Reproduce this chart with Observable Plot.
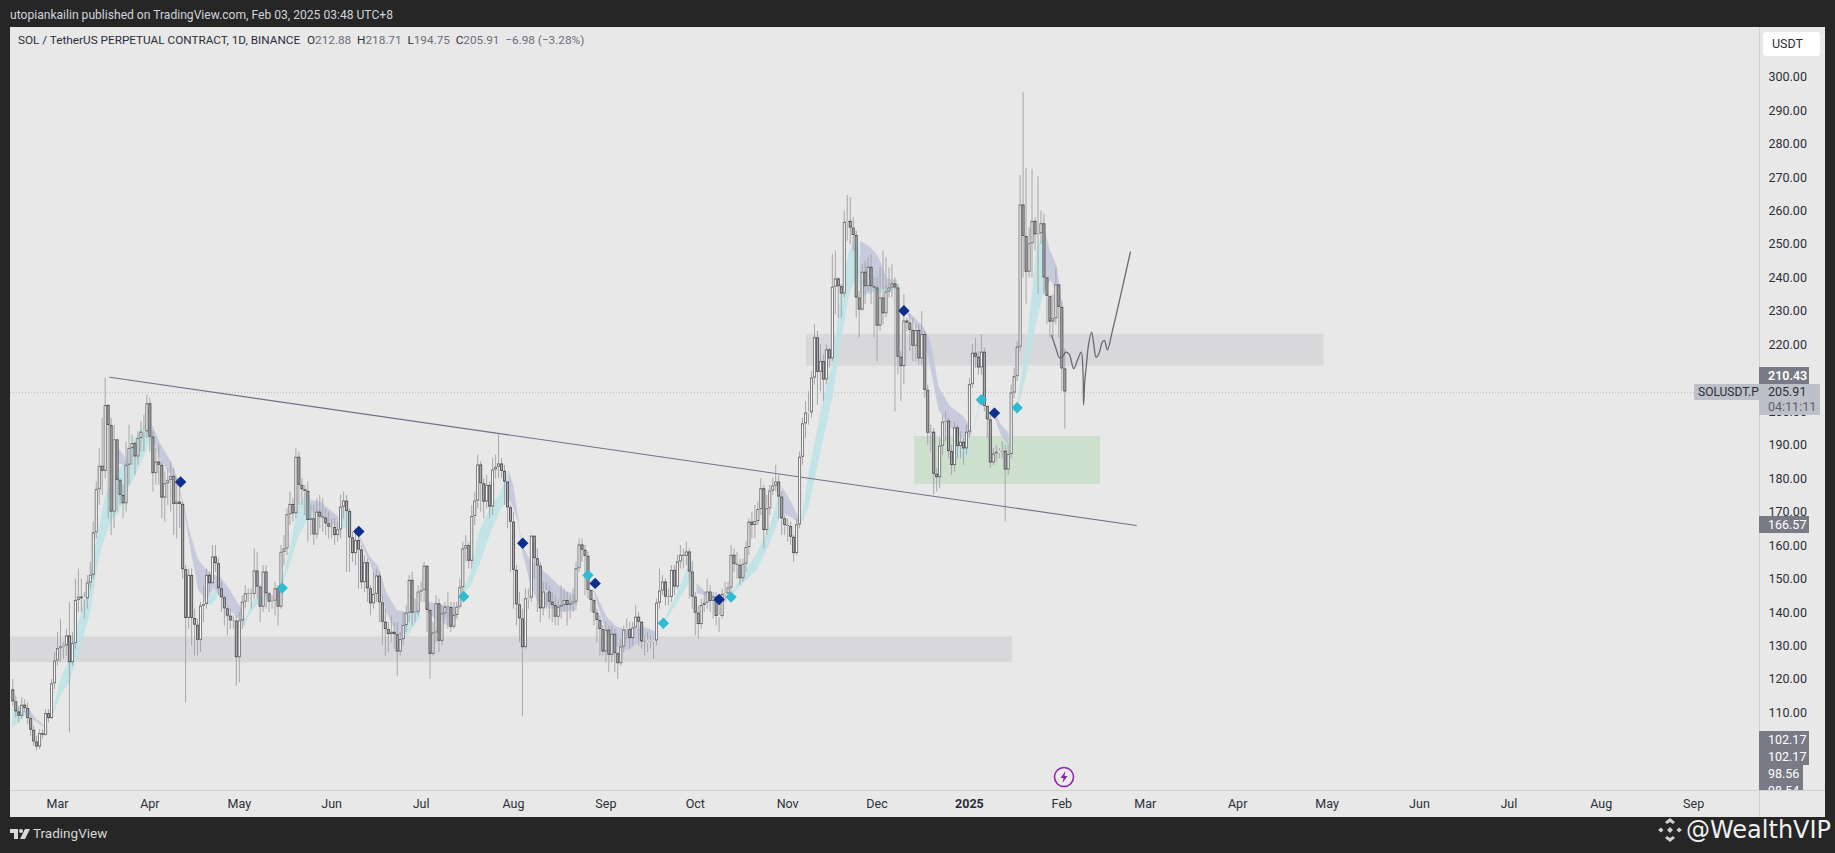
<!DOCTYPE html>
<html><head><meta charset="utf-8">
<script src="https://cdn.jsdelivr.net/npm/d3@7"></script>
<script src="https://cdn.jsdelivr.net/npm/@observablehq/plot@0.6"></script>
<style>
html,body{margin:0;padding:0;background:#262626;width:1835px;height:853px;overflow:hidden;font-family:Roboto,sans-serif}
#pane{position:absolute;left:10px;top:27px;width:1815px;height:790px;background:#e8e8e8}
#chart{position:absolute;left:10px;top:27px}
.t{position:absolute;white-space:pre;line-height:1}
.tag{position:absolute;font-size:12.5px;text-align:left;box-sizing:border-box;padding-left:9px}
.dk{background:#787b86;color:#fff;left:1759px;width:50px}
.line{position:absolute;background:#d0d0d2}
svg text{font-family:Roboto,sans-serif}
</style></head><body>
<div id="pane"></div>
<div id="chart"></div>
<div class="line" style="left:10px;top:790px;width:1815px;height:1px"></div>
<div class="line" style="left:1759px;top:27px;width:1px;height:790px"></div>
<div class="t" style="left:10px;top:9px;font-size:12.1px;color:#d1d4dc">utopiankailin published on TradingView.com, Feb 03, 2025 03:48 UTC+8</div>
<div class="t" style="left:18px;top:35px;font-size:11.75px;color:#2a2e39">SOL / TetherUS PERPETUAL CONTRACT, 1D, BINANCE <span style="margin-left:4px">O</span><span style="color:#6a6d78">212.88</span>  H<span style="color:#6a6d78">218.71</span>  L<span style="color:#6a6d78">194.75</span>  C<span style="color:#6a6d78">205.91</span>  <span style="color:#6a6d78">−6.98 (−3.28%)</span></div>
<div class="t" style="left:1763px;top:32px;width:57px;height:24px;background:#fff;border-radius:3px;font-size:12.5px;line-height:24px;color:#2a2e39;text-indent:9px">USDT</div>
<div class="tag dk" style="top:367px;height:17px;line-height:17px;font-weight:600">210.43</div>
<div class="tag" style="left:1694px;top:384px;width:65px;height:16px;line-height:16px;background:#bcc0c8;color:#2a2e39;padding-left:4px;font-size:12px">SOLUSDT.P</div>
<div class="tag" style="left:1759px;top:384px;width:61px;height:31px;background:#bcc0c8;color:#2a2e39;line-height:15px"><div>205.91</div><div style="color:#5d606b">04:11:11</div></div>
<div class="tag dk" style="top:516px;height:17px;line-height:17px">166.57</div>
<div class="tag dk" style="top:731px;height:17px;line-height:17px">102.17</div>
<div class="tag dk" style="top:748px;height:17px;line-height:17px">102.17</div>
<div class="tag dk" style="top:765px;height:25px;line-height:17px;width:44px;overflow:hidden">98.56<br>98.54</div>
<svg style="position:absolute;left:1052px;top:765px" width="24" height="24" viewBox="0 0 24 24"><circle cx="12" cy="12" r="9.5" fill="#ececec" stroke="#8e24aa" stroke-width="1.6"/><path d="M13.5 6 L8.5 13 H11.5 L10.5 18 L15.5 11 H12.5 Z" fill="#8e24aa"/></svg>
<svg style="position:absolute;left:10px;top:828px" width="20" height="12" viewBox="0 0 20 12"><path d="M0 1H8V11H4V5H0Z M15 1H20L15 11H10Z" fill="#d8d8d8"/><circle cx="11" cy="3" r="2" fill="#d8d8d8"/></svg>
<div class="t" style="left:33px;top:827px;font-size:13.5px;color:#d8d8d8">TradingView</div>
<svg style="position:absolute;left:1656px;top:817px" width="28" height="26" viewBox="0 0 28 26" fill="#d0d0d0"><path d="M14 1l5 4-2 2-3-2-3 2-2-2z M14 25l-5-4 2-2 3 2 3-2 2 2z M2 13l3-2.5 2.500 2.500-2.500 2.500z M26 13l-3-2.500-2.500 2.500 2.500 2.500z M14 10l3 3-3 3-3-3z"/></svg>
<div class="t" style="left:1686px;top:818px;font-size:24px;color:#f0f0f0;font-family:'DejaVu Sans',sans-serif">@WealthVIP</div>
<script>
// first open of the visible history
const firstOpen = 116.9;
// daily closes, 15 Feb 2024 to 2 Feb 2025
const closes = [
113.3,110.3,109.0,112.3,111.3,108.3,104.8,101.3,99.8,103.8,
103.3,109.8,108.3,118.7,125.5,129.2,129.7,130.0,133.0,125.0,
130.7,143.6,144.6,144.1,144.1,148.8,151.1,163.8,176.7,183.7,
182.2,201.9,195.9,170.0,191.6,179.5,175.0,172.5,184.0,189.0,
190.5,186.5,192.0,193.9,194.0,202.4,192.4,181.5,185.0,184.0,
174.2,178.5,179.5,180.7,172.3,173.0,172.3,152.8,138.2,151.1,
138.2,136.2,131.7,141.9,142.4,151.1,148.6,156.6,154.6,147.1,
144.4,141.1,138.9,137.5,137.4,126.5,137.5,143.1,145.6,145.5,145.4,
152.4,147.6,141.6,152.1,145.6,143.1,143.4,147.1,141.6,158.0,159.0,
169.2,172.3,169.5,186.4,178.0,176.7,176.2,167.5,168.0,163.2,
170.0,168.5,168.2,166.5,165.5,165.4,163.0,164.7,171.5,173.3,
170.2,162.3,157.6,161.5,158.7,148.9,154.9,147.1,142.6,145.4,
150.9,142.9,137.1,134.9,133.4,134.1,133.4,128.2,131.9,136.1,
139.8,149.6,139.8,140.1,146.1,146.6,153.8,140.6,127.5,133.9,
142.6,131.4,139.6,141.6,141.5,135.6,139.1,141.6,147.4,159.0,
160.0,155.3,168.7,173.3,184.1,178.5,173.0,178.0,171.5,182.6,
183.4,184.4,182.2,179.0,171.3,167.0,152.6,142.3,138.1,129.5,
144.1,144.3,162.8,156.1,153.9,141.1,146.1,146.1,143.1,142.1,
138.6,141.6,142.1,143.6,142.1,142.6,143.1,153.1,160.2,158.6,
156.8,146.6,143.6,139.8,137.6,134.9,128.2,134.7,127.2,133.5,
127.7,124.7,129.7,134.7,134.9,132.2,135.4,138.6,137.1,131.2,
131.1,131.2,131.4,131.5,142.8,146.4,149.1,144.6,144.5,152.6,
147.6,155.1,157.1,156.8,158.1,152.1,144.6,139.8,136.4,142.1,
142.8,146.1,143.3,144.6,138.8,138.8,145.4,145.6,147.3,157.1,
154.4,154.1,150.1,154.4,159.4,167.0,166.0,167.2,170.8,177.0,
164.5,171.0,176.3,177.8,179.0,174.5,168.0,166.0,165.7,162.5,
157.6,166.2,186.4,196.4,199.6,199.7,210.1,222.1,211.8,215.0,
209.5,218.5,215.8,237.2,239.7,237.4,235.2,256.6,256.9,254.9,
252.7,234.0,230.4,241.7,237.4,243.2,237.4,237.0,225.6,234.0,
229.3,235.8,237.0,238.2,237.0,216.3,213.5,227.1,226.5,224.3,
219.6,224.3,215.8,223.1,206.4,193.6,193.9,181.3,180.3,189.7,
196.9,197.2,188.1,183.9,195.2,189.6,190.9,188.9,193.9,208.1,
217.5,216.3,213.1,217.8,201.6,197.6,184.7,187.4,187.9,187.9,
188.2,182.6,187.2,205.6,210.5,219.3,261.8,252.4,241.7,250.2,
256.9,252.9,253.2,256.2,240.0,234.5,226.8,227.8,237.9,231.2,
212.8,205.91];
const highs = [
120,115,112,114.5,114,113,109,106,103,105,
105,111,111,120,128,134,138,131,135,143,
134,150,153,150,146,151,155,167,179,189,
198,210,202,198,196,186,180,178,191,196,
193,191,194,197,199,205,204,194,189,190,
185,182,183,185,183,180,178,173,154,153,
153,141,138,143,148,153,152,160,160,156,
149,145,142,141,139,139,140,145,148,147,147,
159,158,148,154,154,146,145,149,148,160,163,
171,176,174,189,188,180,178,179,172,172,
174,175,174,171,170,168,168,167,175,176,
175,171,164,165,164,160,157,156,148,152,
153,152,145,141,137,139,137,137,134,140,
142,151,152,144,148,149,155,154,141,137,
145,144,142,143,146,143,143,143,150,161,
163,161,172,176,187,185,180,181,179,186,
187,193,186,184,179,172,170,154,146,141,
147,147,163,162,159,155,149,149,148,146,
145,144,148,147,146,145,147,155,162,162,
160,158,146,144,141,139,136,137,136,136,
135,128,132,136,138,137,137,142,140,137,
133,134,133,132,144,153,151,150,147,154,
154,157,160,159,161,159,155,146,142,144,
146,150,148,146,146,143,147,149,149,160,
159,158,156,156,161,168,170,172,173,180,
178,175,178,180,184,181,176,169,168,167,
163,168,188,198,203,206,212,226,224,220,
217,220,219,247,248,240,238,260,264.6,264,
258,254,236,244,245,246,247,240,240,243,
248,246,243,244,240,238,218,235,228,229,
228,226,226,230,224,208,196,195,183,192,
199,200,198,190,197,196,194,192,196,210,
220,222,218,223,219,200,199,189,190,189,
191,190,190,208,213,221,270.6,295.5,272.7,255,
272.4,258,270.2,260,259,240,234,235,243,238,
233,218.71];
const lows = [
112,108.5,107,108,110,106.5,103,100,98.6,99,
102.2,103,107,108,117,124,125,126,127,104,
124,129,140,140,138,141,147,150,162,172,
175,180,168,163,165,170,172,168,170,178,
184,181,184,188,188,192,188,176,178,178,
168,167,172,170,163,162,165,150,113,135,
130,127,127,128,137,141,146,150,152,145,
140,136,133,135,135,118,119,135,141,143,141,
144,144,137,140,141,140,141,139,136,141,154,
157,166,167,168,172,172,169,161,163,160,
162,165,164,163,162,162,160,161,162,168,
152,152,155,154,147,147,146,143,139,141,
143,137,130,127,128,131,129,121,127,130,
134,137,136,137,139,143,143,134,120,127,
131,128,130,138,135,134,135,138,141,146,
155,153,153,166,171,170,168,171,168,169,
180,180,180,172,165,152,141,136,131,109,
129,141,143,150,140,137,139,141,138,137,
136,136,138,140,136,138,140,142,152,155,
145,144,140,136,131,127,127,125,122,125,
122,120,124,128,132,129,130,135,130,129,
127,128,129,126,130,141,145,142,142,143,
145,147,153,153,154,144,141,133,132,135,
140,141,140,138,136,134,138,143,145,146,
152,150,148,149,152,157,162,162,166,169,
159,163,169,175,176,168,163,163,161,160,
155,157,165,184,192,196,198,208,202,206,
203,208,213,215,229,228,228,234,251,250,
248,228,222,230,232,236,232,222,215,224,
226,228,234,234,200,211,203,208,224,218,
215,215,214,214,204,190,188,175,176,177,
187,191,186,181,182,186,186,184,187,192,
207,213,211,211,200,192,183,184,185,186,
186,167,181,186,204,209,218,240,232,240,
240,248,235,250,235,226,222,222,226,222,
206,194.75];
// ribbon outlines: [day index, upper price, lower price]
const tealBands = [
[[0,110.8,105.3],[3.7,111.8,108.8],[5.4,110.9,109.5]],
[[13.2,108.8,108.3],[16,119.7,114.7],[19.4,126.7,119.7],[22.7,138.7,129.2],[26.1,151.6,139.7],[28.9,164.6,155.6],[31.1,174.5,162.6],[33.3,179,167.5],[35.6,183,169.5],[37.8,184.5,174.5],[40.6,191.4,179.5],[44,195.6,186],[46.8,196.2,192.4]],
[[64,146.6,143.6],[66.3,145,142],[68.6,147,144]],
[[77.5,136.6,135.6],[80.9,143.6,141.1],[83.1,144.6,143.1],[86.5,145.6,144.6]],
[[89.9,147.1,146.6],[93.2,159.6,154.6],[96,171.5,162.5],[98.8,176,167.5],[102.2,170.5,168.5]],
[[110.5,170.5,165.5],[113.9,170,164]],
[[131.8,140.1,132.1],[134.6,139.6,135.6],[136.8,143.1,138.6]],
[[150.8,145.6,144.6],[153.6,151.6,147.6],[156.4,163.5,153.5],[160.3,171.5,163.5],[163.7,175.5,170.5],[166.5,182.5,174]],
[[218.5,137.1,136.6],[222.9,145.6,142.6],[226.3,152.6,147.6],[228.5,156.1,151.6]],
[[240.8,145.1,144.6],[245.3,151.6,148.6],[249.8,157.6,152.6],[254.2,165.6,160.6],[257.6,176.5,168.5]],
[[264.9,168.5,166.5],[267.2,181.5,171.5],[272.2,204.4,192.4],[275.5,215.3,205.4],[277.8,234.2,219.3],[280.6,247.2,234.2],[283.4,254.2,241.2],[285,240,234.2],[289,237.2,235.7],[293.4,237.7,235.7],[297.4,238.2,236.7]],
[[315.2,191,190],[316.9,190.4,187.4],[319.7,189.4,185.9],[321.4,189,187]],
[[322.5,195.4,194.4],[324.8,203.4,202.4],[327,207,206]],
[[335.4,189.4,189],[337,201.4,200.4],[340.4,221.3,211.3],[343.8,249.2,227.3],[346,253.2,235.2]]
];
const lavenderBands = [
[[5.4,111.3,109.5],[7.6,108.5,107.5],[10.4,106.3,105.6]],
[[35,189.5,184.5],[37.3,187,184],[38.6,184,180]],
[[46.8,196.2,192.4],[49.6,190.4,185.5],[52.9,185.5,181.5],[55.2,180.5,179],[57.4,172.5,171.5],[59.6,163.6,159.6],[62.4,155.6,146.6],[65.2,152.6,143.6],[67.5,151.1,147.1],[69.7,150.6,144.6],[73,146.6,140.6],[76.4,141.6,137.6],[78.1,137.6,135.6]],
[[100,173.5,170.5],[103.3,173,168.5],[106.6,170.5,166.5],[109.4,168.5,165]],
[[116.1,163.5,162.5],[120,156.5,154.5],[122.9,153.5,147.5],[125.6,145.6,139.6],[129,140.6,133.6],[131.8,140.1,132.1]],
[[139.1,143.1,140.1],[142.4,142.6,137.6],[146.9,141.6,135.6],[149.1,141.6,138.6]],
[[166.5,182.5,174],[168.2,177.5,171],[169.8,167.5,166.5],[171,160,158.5],[173.7,155.6,148.6],[176.5,153.6,142.6],[180.4,150.6,141.1],[184.9,146.6,140.1],[189.4,145.1,140.6]],
[[195,147.1,146.1],[199.4,138.6,133.6],[202.8,135.6,129.6],[206.7,134.6,128.6],[208.9,135.1,130.1],[211.7,135.6,132.6],[216.2,134.2,131.2]],
[[229.6,148.6,145.6],[233,145.6,145.1],[236.4,144.6,143.6]],
[[258.2,177.5,169.5],[261,173.5,168.5],[264.3,167.5,166.5]],
[[284.5,251,235.2],[287.8,249.2,235.2],[290.6,246.2,237.2],[293.4,239.7,236.2],[296.8,239.2,237.2]],
[[299.6,230.7,229.7],[305.7,225.3,222.3],[308,221.3,213.3],[310.8,207.3,200.4],[314.7,201.4,195.4],[319.2,198.4,191.4],[322,194.4,193.4]],
[[328.7,201.4,200.4],[331.5,196.4,193.4],[334.3,193.4,189.4]],
[[346,255.2,235.2],[348.2,248.2,239.2],[350.5,243.2,236.2],[352.2,232.2,230.7]]
];
const darkSignals = [[56.3,179.0],[116.1,164.2],[171.1,160.7],[195.4,148.7],[237,143.9],[299,230.2],[329.4,199.6]];
const cyanSignals = [[90.4,147.3],[151.3,144.8],[193,151.1],[218.3,136.8],[241,144.6],[325,203.6],[337,201.2]];
const sketchPath = [[348.6,222.8],[349.9,219.3],[351.3,216.1],[352.5,216.8],[353.3,217.8],[354.4,217.3],[356,212.9],[357.2,215.3],[358.5,217.8],[359.1,212],[359.3,202],[359.7,209],[360.3,214.4],[361,220.3],[362,223.8],[362.7,220.3],[363.5,216.3],[364.4,217.3],[365.6,220.8],[366.3,221.3],[367.3,218.5],[369,224.3],[375,247.7]];
const trendLine = [["2024-03-18T12:00:00Z",210.3],["2025-02-26",166.0]];
const zones = [
  {from:-1,to:335.4,top:132.7,bottom:125.0,fill:"#d8d8da"},
  {from:266.3,to:440,top:223.1,bottom:213.6,fill:"#d8d8da"},
  {from:302.6,to:365,top:192.6,bottom:178.3,fill:"#cddfcd"}
];
const monthTicks = ["2024-03-01","2024-04-01","2024-05-01","2024-06-01","2024-07-01","2024-08-01","2024-09-01","2024-10-01","2024-11-01","2024-12-01","2025-02-01","2025-03-01","2025-04-01","2025-05-01","2025-06-01","2025-07-01","2025-08-01","2025-09-01"];
const yearTicks = ["2025-01-01"];
const priceTicks = [110,120,130,140,150,160,170,180,190,200,210,220,230,240,250,260,270,280,290,300];
const lastPrice = 205.7;

const startMs = Date.UTC(2024,1,15);
const day = i => new Date(startMs + i*864e5);
const candles = closes.map((c,i)=>{
  const o = i ? closes[i-1] : firstOpen;
  return {d:day(i),o,c,h:Math.max(highs[i],o,c),l:Math.min(lows[i],o,c),up:c>=o};
});
const ribbon = (bands)=>bands.flatMap((b,k)=>b.map(([i,t,u])=>({d:day(i),t,u,k})));
const mono = (a)=>a.map(([i,p])=>({d:day(i),p}));
const isoD = s=>new Date(s.includes("T")?s:s+"T00:00:00Z");

const plot = Plot.plot({
  width:1815, height:790,
  marginLeft:0, marginRight:66, marginTop:0, marginBottom:27,
  style:{background:"transparent",fontFamily:"Roboto",fontSize:"12.5px",color:"#2a2e39",overflow:"visible"},
  x:{type:"utc",domain:[day(-0.77),day(586.1)]},
  y:{domain:[86.8,314.85]},
  marks:[
    Plot.rect(zones,{x1:d=>day(d.from),x2:d=>day(d.to),y1:"bottom",y2:"top",fill:"fill",clip:true}),
    Plot.ruleY([lastPrice],{stroke:"#b9b9bd",strokeWidth:1,strokeDasharray:"1,2",clip:true}),
    Plot.areaY(ribbon(tealBands),{x:"d",y1:"u",y2:"t",z:"k",fill:"#bfe3e5",fillOpacity:0.9,clip:true}),
    Plot.areaY(ribbon(lavenderBands),{x:"d",y1:"u",y2:"t",z:"k",fill:"#c2c6da",fillOpacity:0.9,clip:true}),
    Plot.ruleX(candles,{x:"d",y1:"l",y2:"h",stroke:"#a6a6a8",strokeWidth:1,clip:true}),
    Plot.line(trendLine.map(([d,p])=>({d:isoD(d),p})),{x:"d",y:"p",stroke:"#6f7182",strokeWidth:1.1}),
    Plot.ruleX(candles,{x:"d",y1:"o",y2:"c",stroke:d=>d.up?"#6c6c70":"#505054",strokeWidth:3,clip:true}),
    Plot.ruleX(candles,{x:"d",y1:d=>Math.min(d.o,d.c)+0.3,y2:d=>Math.max(d.o,d.c)-0.3,stroke:d=>d.up?"#f7f7f7":"#a8a8ac",strokeWidth:1.3,clip:true}),
    Plot.line(mono(sketchPath),{x:"d",y:"p",stroke:"#6a6a70",strokeWidth:1.3,curve:"catmull-rom"}),
    Plot.dot(mono(darkSignals),{x:"d",y:"p",symbol:"diamond2",r:4.2,fill:"#0f2f8f",stroke:"#0f2f8f"}),
    Plot.dot(mono(cyanSignals),{x:"d",y:"p",symbol:"diamond2",r:4.2,fill:"#2fbcd0",stroke:"#2fbcd0"}),
    Plot.axisY({anchor:"right",ticks:priceTicks,tickSize:0,tickPadding:9,tickFormat:d=>d.toFixed(2),label:null,fill:"#2a2e39"}),
    Plot.axisX({ticks:monthTicks.map(isoD),tickSize:0,tickPadding:9,tickFormat:d3.utcFormat("%b"),label:null,fill:"#2a2e39"}),
    Plot.axisX({ticks:yearTicks.map(isoD),tickSize:0,tickPadding:9,tickFormat:d3.utcFormat("%Y"),label:null,fill:"#2a2e39",fontWeight:700})
  ]
});
document.getElementById("chart").appendChild(plot);
</script>
</body></html>
